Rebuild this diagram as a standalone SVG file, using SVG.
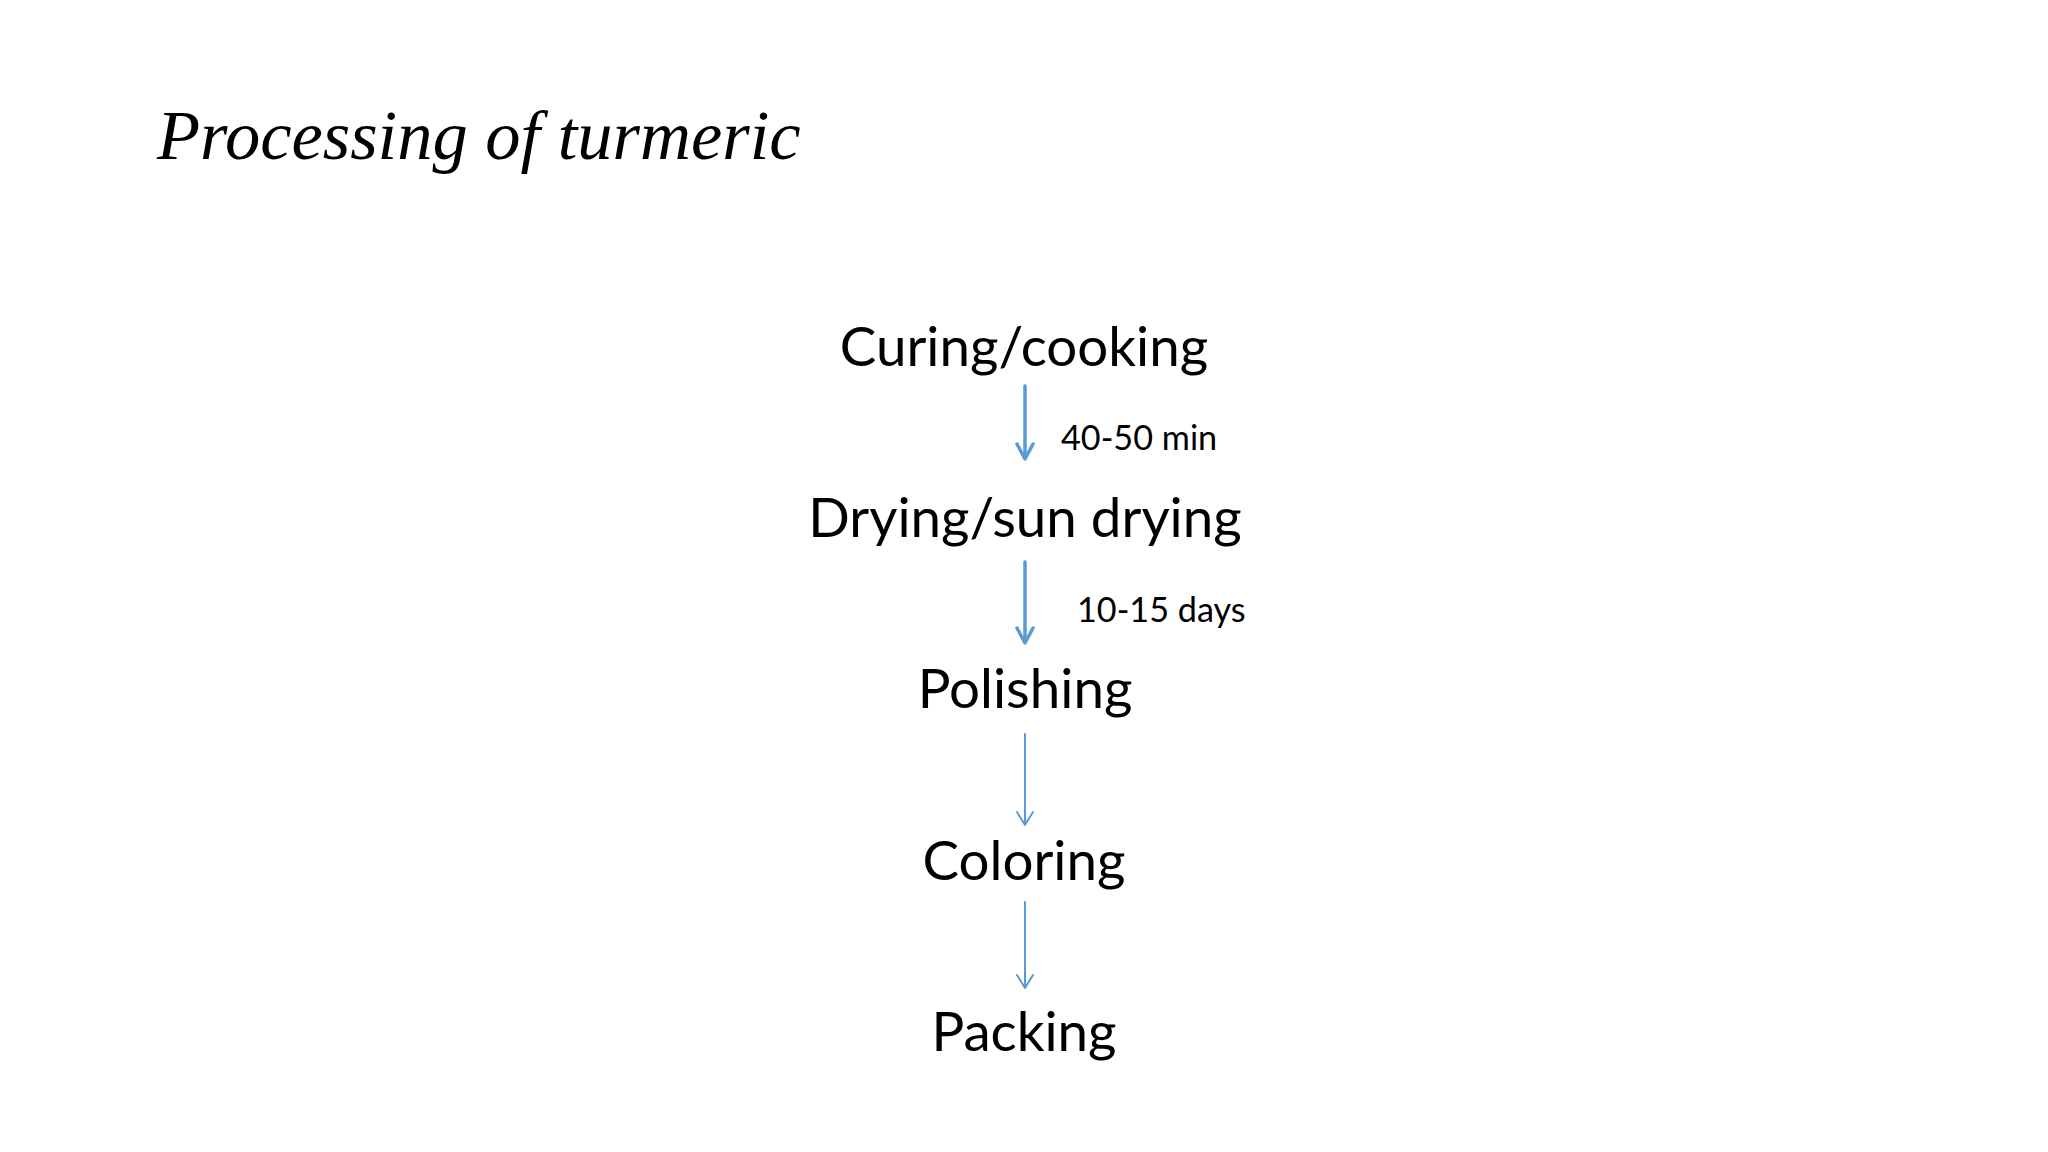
<svg xmlns="http://www.w3.org/2000/svg" width="2048" height="1152" viewBox="0 0 2048 1152">
  <defs>
    <style>
      .title { font-family: "Liberation Serif", "DejaVu Serif", serif; font-style: italic; font-size: 70.5px; fill: #000; }
      .node { font-family: Lato, "Open Sans", "Liberation Sans", sans-serif; font-size: 54.7px; fill: #000; text-anchor: middle; }
      .label { font-family: Lato, "Open Sans", "Liberation Sans", sans-serif; font-size: 34.2px; fill: #000; }
      .conn { stroke: #5b9bd5; fill: none; stroke-linecap: round; stroke-linejoin: round; }
      .thick { stroke-width: 3.5; }
      .thin { stroke-width: 2; }
    </style>
  </defs>
  <rect width="2048" height="1152" fill="#ffffff"/>
  <g id="title"><text class="title" x="157" y="159">Processing of turmeric</text></g>
  <g id="node-curing"><text class="node" x="1024" y="366">Curing/cooking</text></g>
  <g id="node-drying"><text class="node" x="1025" y="537">Drying/sun drying</text></g>
  <g id="node-polishing"><text class="node" x="1025" y="708">Polishing</text></g>
  <g id="node-coloring"><text class="node" x="1024" y="880">Coloring</text></g>
  <g id="node-packing"><text class="node" x="1024" y="1051">Packing</text></g>
  <g id="connectors">
    <g id="c1">
      <path class="conn thick" d="M1025 386 V459 M1017 444 L1025 459 L1033 444"/>
      <text class="label" x="1061" y="450">40-50 min</text>
    </g>
    <g id="c2">
      <path class="conn thick" d="M1025 562 V643 M1017 628 L1025 643 L1033 628"/>
      <text class="label" x="1077" y="622">10-15 days</text>
    </g>
    <g id="c3">
      <path class="conn thin" d="M1025 734 V825 M1017 812 L1025 825 L1033 812"/>
    </g>
    <g id="c4">
      <path class="conn thin" d="M1025 902 V988 M1017 975 L1025 988 L1033 975"/>
    </g>
  </g>
</svg>
